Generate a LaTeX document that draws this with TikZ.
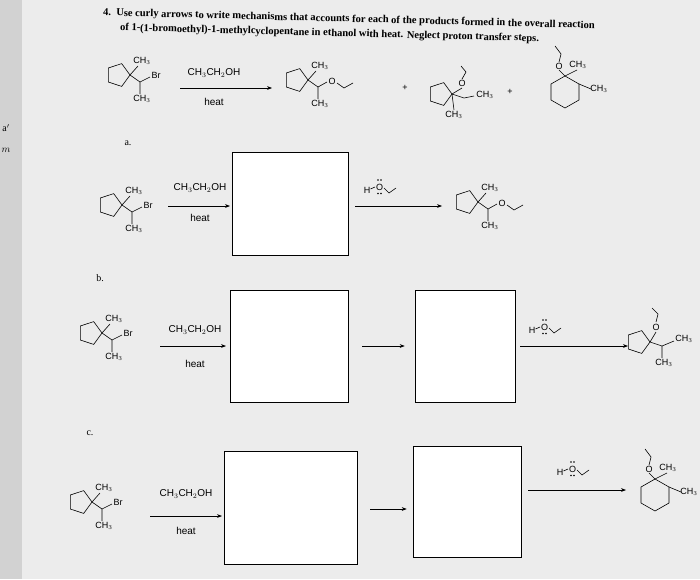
\documentclass[tikz,border=0pt]{standalone}
\usepackage{fontspec}
\setmainfont{Liberation Serif}
\newfontfamily\chemf{Liberation Sans}
\usetikzlibrary{arrows.meta}
\tikzset{
 lbl/.style={font=\chemf\fontsize{9}{9}\selectfont,inner sep=0.5pt},
 cond/.style={font=\chemf\fontsize{10}{10}\selectfont,inner sep=1pt},
 rx/.style={-{Stealth[length=5pt]},line width=0.6pt},
 box/.style={draw,line width=0.6pt,fill=white},
 bond/.style={line width=0.6pt},
 tag/.style={font=\fontsize{10}{10}\selectfont},
 ttl/.style={rotate=-1.5,anchor=west,font=\bfseries\fontsize{10.5}{12}\selectfont,inner sep=0pt}
}
\newcommand\pent{\draw[bond] (12,0) -- (3.7,11.4) -- (-9.7,7) -- (-9.7,-7) -- (3.7,-11.4) -- cycle;}
\newcommand\reactant[2]{%
 \begin{scope}[shift={(#1)}]
 \pent
 \draw[bond] (12,0) -- (20,-9) (12,0) -- (22,7) -- (32,2) (22,7) -- (22,19);
 \node[lbl] (#2m) at (24,-14) {CH$_3$};
 \node[lbl] (#2b) at (38,0) {Br};
 \node[lbl] (#2c) at (24,24) {CH$_3$};
 \end{scope}}
\newcommand\ether[1]{%
 \begin{scope}[shift={(#1)}]
 \pent
 \draw[bond] (12,0) -- (20,-9) (12,0) -- (22,7) -- (22,19) (22,7) -- (31,2) (41,3) -- (48,8) -- (57,3);
 \node[lbl] at (24,-14) {CH$_3$};
 \node[lbl] at (36,1) {O};
 \node[lbl] at (24,24) {CH$_3$};
 \end{scope}}
\newcommand\hexprod[1]{%
 \begin{scope}[shift={(#1)}]
 \draw[bond] (0,-16) -- (14,-8) -- (14,8) -- (0,16) -- (-14,8) -- (-14,-8) -- cycle;
 \draw[bond] (0,-16) -- (-6,-22) (0,-16) -- (12,-22) (14,-8) -- (26,-3);
 \draw[bond] (-6,-30) -- (-4,-38) -- (-10,-46);
 \node[lbl] at (-6,-26) {O};
 \node[lbl] at (13,-27) {CH$_3$};
 \node[lbl] at (34,-3) {CH$_3$};
 \end{scope}}
\newcommand\hoeth[1]{%
 \begin{scope}[shift={(#1)}]
 \node[lbl] at (0,0) {H};
 \draw[bond] (3.5,-1) -- (8,-3);
 \node[lbl] (o) at (12.5,-3) {O};
 \fill (11,-10) circle (0.8) (14,-10) circle (0.8) (11,3.5) circle (0.8) (14,3.5) circle (0.8);
 \draw[bond] (17,-2) -- (22,3) -- (29,-2);
 \end{scope}}
\begin{document}
\begin{tikzpicture}[x=1pt,y=-1pt]
\useasboundingbox (0,0) rectangle (700,579);
\fill[gray!15] (0,0) rectangle (700,579);
\fill[gray!35] (0,0) rectangle (22,579);
\node[ttl] (title1) at (103,13) {4.\ \ Use curly arrows to write mechanisms that accounts for each of the products formed in the overall reaction};
\node[ttl] (title2) at (120,28) {of 1-(1-bromoethyl)-1-methylcyclopentane in ethanol with heat. Neglect proton transfer steps.};
\node[tag] at (6,128) {a$'$};
\node[tag] at (6,150) {$m$};
% top row
\reactant{118,75}{r0}
\coordinate (t1) at (180,88); \coordinate (t2) at (272,88);
\draw[rx] (t1) -- (t2);
\node[cond] at (214,73) {CH$_3$CH$_2$OH};
\node[cond] at (214,102) {heat};
\ether{296,80}
\node[lbl] at (405,88) {+};
\begin{scope}[shift={(440,94)}]
 \pent
 \draw[bond] (12,0) -- (22,-6) (12,0) -- (24,4) -- (34,2) (12,0) -- (14,16);
 \draw[bond] (22,-15) -- (26,-22) -- (21,-28);
 \node[lbl] at (22,-11) {O};
 \node[lbl] at (45,1) {CH$_3$};
 \node[lbl] at (14,21) {CH$_3$};
\end{scope}
\node[lbl] at (510,92) {+};
\hexprod{565,92}
% a
\node[tag] at (128,143) {a.};
\reactant{110,205}{ra}
\coordinate (a1) at (168,206); \coordinate (a2) at (230,206);
\draw[rx] (a1) -- (a2);
\node[cond] at (200,188) {CH$_3$CH$_2$OH};
\node[cond] at (200,218) {heat};
\node[box,minimum width=116pt,minimum height=103pt] (ba) at (290,204) {};
\hoeth{367,190}
\coordinate (a3) at (355,206); \coordinate (a4) at (442,206);
\draw[rx] (a3) -- (a4);
\ether{466,202}
% b
\node[tag] at (100,278) {b.};
\reactant{90,333}{rb}
\coordinate (b1) at (160,346); \coordinate (b2) at (226,346);
\draw[rx] (b1) -- (b2);
\node[cond] at (195,330) {CH$_3$CH$_2$OH};
\node[cond] at (195,364) {heat};
\node[box,minimum width=118pt,minimum height=112pt] (bb1) at (289,346) {};
\node[box,minimum width=100pt,minimum height=112pt] (bb2) at (465,346) {};
\draw[rx] ([xshift=14pt]bb1.east) -- ([xshift=-10pt]bb2.west);
\hoeth{532,330}
\coordinate (b3) at (520,346); \coordinate (b4) at (628,346);
\draw[rx] (b3) -- (b4);
\begin{scope}[shift={(638,342)}]
 \pent
 \draw[bond] (12,0) -- (18,-10) (12,0) -- (24,4) -- (36,-1) (24,4) -- (24,16);
 \draw[bond] (18,-20) -- (20,-28) -- (14,-34);
 \node[lbl] at (18,-15) {O};
 \node[lbl] at (46,-3) {CH$_3$};
 \node[lbl] at (26,21) {CH$_3$};
\end{scope}
% c
\node[tag] at (90,433) {c.};
\reactant{80,502}{rc}
\coordinate (c1) at (150,516); \coordinate (c2) at (222,516);
\draw[rx] (c1) -- (c2);
\node[cond] at (186,494) {CH$_3$CH$_2$OH};
\node[cond] at (186,531) {heat};
\node[box,minimum width=133pt,minimum height=113pt] (bc1) at (291,508) {};
\node[box,minimum width=108pt,minimum height=111pt] (bc2) at (467,502) {};
\draw[rx] (370,509) -- ([xshift=-6pt]bc2.west |- 0,509);
\hoeth{560,472}
\coordinate (c3) at (528,490); \coordinate (c4) at (626,490);
\draw[rx] (c3) -- (c4);
\hexprod{655,495}
\end{tikzpicture}
\end{document}
